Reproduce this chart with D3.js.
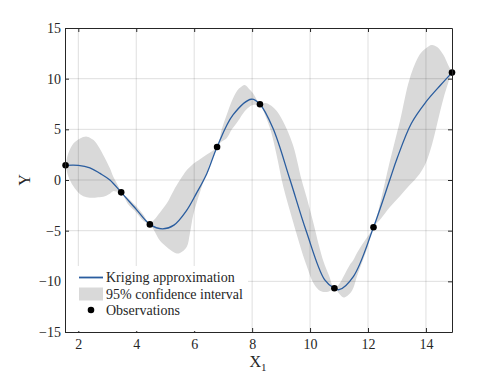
<!DOCTYPE html>
<html>
<head>
<meta charset="utf-8">
<script src="https://cdn.jsdelivr.net/npm/d3@7"></script>
<style>
  body { margin: 0; background: #fff; }
  svg text { font-family: "Liberation Serif", "DejaVu Serif", serif; fill: #262626; }
</style>
</head>
<body>
<div id="chart"></div>
<script>
// observations
var obsX = [1.56, 3.48, 4.47, 6.79, 8.27, 10.84, 12.19, 14.9];
var obsY = [1.45, -1.22, -4.38, 3.26, 7.47, -10.69, -4.67, 10.6];

// kriging mean
var meanX = [1.56, 2.0, 2.4, 2.75, 3.09, 3.48, 4.0, 4.47, 4.9, 5.3, 5.74, 6.08, 6.43, 6.79, 7.34, 7.98, 8.27, 8.72, 9.3, 9.87, 10.5, 10.84, 11.0, 11.5, 12.19, 12.75, 13.0, 13.5, 14.0, 14.5, 14.9];
var meanY = [1.45, 1.45, 1.2, 0.65, 0.0, -1.22, -2.9, -4.38, -4.82, -4.45, -3.0, -1.3, 0.6, 3.26, 6.42, 7.97, 7.47, 5.1, 0.1, -5.06, -9.83, -10.69, -10.82, -9.5, -4.67, 0.0, 2.1, 5.6, 7.7, 9.35, 10.6];

// 95% confidence band
var bandX = [1.56, 1.65, 1.83, 2.06, 2.29, 2.5, 2.63, 2.86, 3.09, 3.2, 3.38, 3.48, 3.72, 4.0, 4.25, 4.47, 4.6, 4.82, 5.05, 5.28, 5.4, 5.51, 5.74, 5.85, 5.97, 6.2, 6.45, 6.79, 6.95, 7.12, 7.3, 7.46, 7.58, 7.75, 7.92, 8.03, 8.2, 8.27, 8.45, 8.65, 8.85, 9.07, 9.41, 9.7, 9.9, 10.12, 10.3, 10.47, 10.65, 10.84, 11.0, 11.16, 11.39, 11.5, 11.62, 11.84, 11.96, 12.19, 12.45, 12.75, 13.1, 13.44, 13.78, 14.0, 14.2, 14.4, 14.6, 14.76, 14.9];
var bandLow = [1.45, 0.4, -0.62, -1.4, -1.7, -1.75, -1.72, -1.65, -1.35, -1.1, -1.2, -1.22, -2.4, -3.2, -4.05, -4.38, -4.9, -6.0, -6.6, -7.1, -7.25, -7.2, -6.6, -5.3, -3.4, -1.2, 0.9, 3.26, 3.8, 4.12, 5.0, 5.6, 6.1, 6.8, 7.25, 7.4, 7.45, 7.47, 6.4, 4.8, 2.4, -0.6, -4.1, -6.9, -8.6, -10.2, -10.85, -11.05, -11.0, -10.69, -11.2, -11.6, -11.15, -10.6, -9.5, -7.8, -6.87, -4.67, -3.8, -2.7, -1.6, -0.5, 0.6, 1.7, 3.4, 5.7, 8.0, 9.5, 10.6];
var bandHigh = [1.45, 2.6, 3.6, 4.1, 4.28, 4.0, 3.6, 2.47, 1.15, 0.36, -0.6, -1.22, -1.8, -2.6, -3.45, -4.38, -3.98, -3.2, -2.33, -1.1, -0.5, 0.0, 0.95, 1.28, 1.6, 2.05, 2.55, 3.26, 5.0, 6.42, 7.8, 8.72, 9.1, 9.38, 8.9, 8.56, 7.74, 7.47, 7.6, 7.35, 6.8, 5.77, 3.46, 0.1, -1.9, -4.3, -6.4, -8.1, -9.4, -10.69, -10.3, -9.5, -8.3, -7.86, -7.2, -6.2, -5.7, -4.67, -1.9, 1.8, 5.77, 10.0, 12.35, 13.0, 13.33, 13.1, 12.35, 11.4, 10.6];

var xTicks = [2, 4, 6, 8, 10, 12, 14];
var yTicks = [-15, -10, -5, 0, 5, 10, 15];

var legendLabels = ['Kriging approximation', '95% confidence interval', 'Observations'];

var width = 500, height = 376;
var plotLeft = 65, plotRight = 452, plotTop = 28, plotBottom = 332;
var lineColor = '#2a5d9f';
var bandColor = '#d9d9d9';
var serif = '"Liberation Serif", "DejaVu Serif", serif';

var svg = d3.select('#chart').append('svg')
    .attr('width', width)
    .attr('height', height);

var x = d3.scaleLinear().domain([1.54, 14.9]).range([plotLeft, plotRight]);
var y = d3.scaleLinear().domain([-15, 15]).range([plotBottom, plotTop]);

// confidence band
var band = bandX.map(function (v, i) { return { x: v, lo: bandLow[i], hi: bandHigh[i] }; });
svg.append('path')
    .datum(band)
    .attr('fill', bandColor)
    .attr('d', d3.area()
        .x(function (d) { return x(d.x); })
        .y0(function (d) { return y(d.lo); })
        .y1(function (d) { return y(d.hi); })
        .curve(d3.curveCatmullRom.alpha(0.5)));

// grid lines on top of band
var grid = svg.append('g').attr('stroke', '#262626').attr('stroke-opacity', 0.15).attr('stroke-width', 1);
grid.selectAll('line.gx')
    .data(xTicks)
    .enter().append('line')
    .attr('x1', d => x(d)).attr('x2', d => x(d))
    .attr('y1', plotTop).attr('y2', plotBottom);
grid.selectAll('line.gy')
    .data(yTicks.slice(1, -1))
    .enter().append('line')
    .attr('x1', plotLeft).attr('x2', plotRight)
    .attr('y1', d => y(d)).attr('y2', d => y(d));

// kriging mean
var mean = meanX.map(function (v, i) { return { x: v, y: meanY[i] }; });
svg.append('path')
    .datum(mean)
    .attr('fill', 'none')
    .attr('stroke', lineColor)
    .attr('stroke-width', 1.3)
    .attr('d', d3.line()
        .x(d => x(d.x))
        .y(d => y(d.y))
        .curve(d3.curveCatmullRom.alpha(0.5)));

// observations
svg.selectAll('path.obs')
    .data(obsX)
    .enter().append('path')
    .attr('class', 'obs')
    .attr('transform', (d, i) => 'translate(' + x(d) + ',' + y(obsY[i]) + ')')
    .attr('d', d3.symbol().type(d3.symbolCircle).size(34))
    .attr('fill', '#000');

// axes, ticks pointing inward
function styleAxis(g) {
    g.attr('font-family', serif).attr('font-size', 14);
    g.selectAll('path.domain').attr('stroke', '#262626');
    g.selectAll('.tick line').attr('stroke', '#262626');
    g.selectAll('.tick text').attr('fill', '#262626');
}
svg.append('g')
    .attr('transform', 'translate(0,' + plotBottom + ')')
    .call(d3.axisBottom(x).tickValues(xTicks).tickSizeInner(-4).tickSizeOuter(0).tickPadding(7))
    .call(styleAxis);
svg.append('g')
    .attr('transform', 'translate(0,' + plotTop + ')')
    .call(d3.axisTop(x).tickValues(xTicks).tickSizeInner(-4).tickSizeOuter(0).tickFormat(''))
    .call(styleAxis);
svg.append('g')
    .attr('transform', 'translate(' + plotLeft + ',0)')
    .call(d3.axisLeft(y).tickValues(yTicks).tickSizeInner(-4).tickSizeOuter(0).tickPadding(4))
    .call(styleAxis);
svg.append('g')
    .attr('transform', 'translate(' + plotRight + ',0)')
    .call(d3.axisRight(y).tickValues(yTicks).tickSizeInner(-4).tickSizeOuter(0).tickFormat(''))
    .call(styleAxis);

// axis labels
var xl = svg.append('text')
    .attr('x', 258)
    .attr('y', 367)
    .attr('text-anchor', 'middle')
    .attr('font-size', '16px');
xl.append('tspan').text('X');
xl.append('tspan').attr('font-size', '11px').attr('dy', 4).text('1');

svg.append('text')
    .attr('transform', 'translate(30,180) rotate(-90)')
    .attr('text-anchor', 'middle')
    .attr('font-size', '16px')
    .text('Y');

// legend
var lg = svg.append('g');
lg.append('rect')
    .attr('x', plotLeft + 1).attr('y', 266)
    .attr('width', 182).attr('height', plotBottom - 266 - 1)
    .attr('fill', '#fff');
var rowY = [277.5, 294, 310];
lg.append('line')
    .attr('x1', 79).attr('x2', 103)
    .attr('y1', rowY[0]).attr('y2', rowY[0])
    .attr('stroke', lineColor).attr('stroke-width', 1.8);
lg.append('rect')
    .attr('x', 79).attr('y', rowY[1] - 6.5)
    .attr('width', 24).attr('height', 13)
    .attr('fill', bandColor);
lg.append('path')
    .attr('transform', 'translate(91,' + rowY[2] + ')')
    .attr('d', d3.symbol().type(d3.symbolCircle).size(34))
    .attr('fill', '#000');
lg.selectAll('text')
    .data(legendLabels)
    .enter().append('text')
    .attr('x', 106)
    .attr('y', (d, i) => rowY[i] + 4.5)
    .attr('font-size', '14px')
    .text(d => d);
</script>
</body>
</html>
